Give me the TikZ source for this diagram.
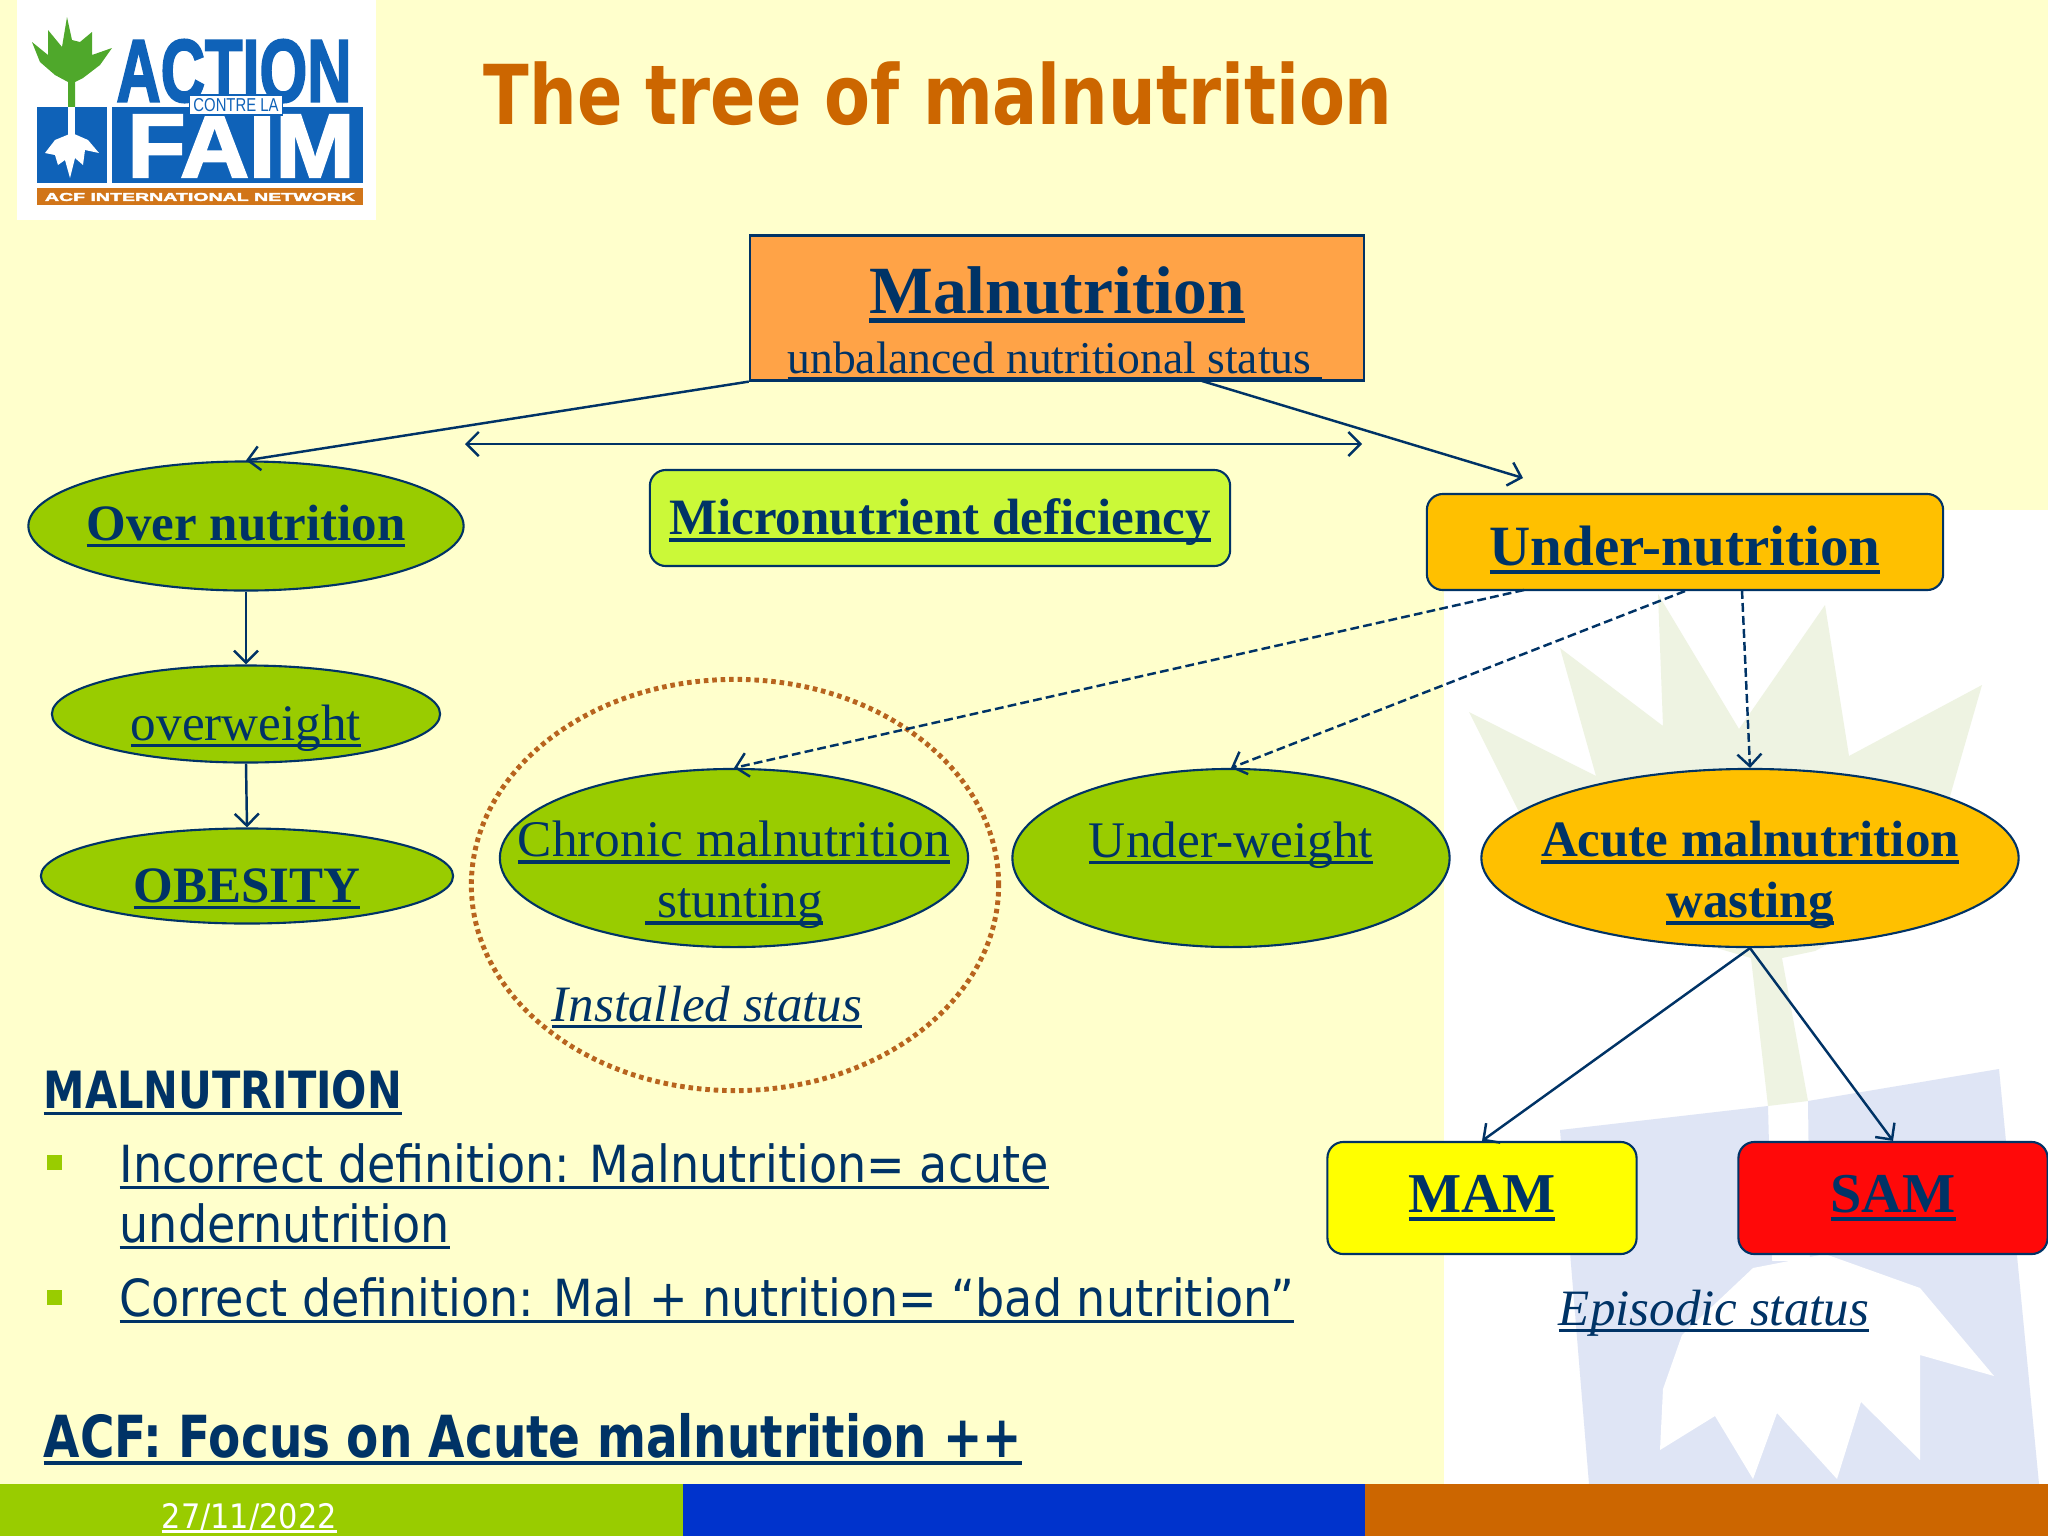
\documentclass[tikz,border=0pt]{standalone}
\usepackage{xcolor}
\usepackage{fontspec}
\setmainfont{Liberation Serif}
\newfontfamily\slidefont[BoldFeatures={FakeStretch=0.9}]{DejaVu Sans Condensed}
\newfontfamily\logofont[BoldFeatures={FakeBold=2.5}]{Liberation Sans}
\usetikzlibrary{shapes.geometric, arrows.meta}
\definecolor{custom_navy}{HTML}{003366}
\definecolor{custom_yellow}{HTML}{FFFFCC}
\definecolor{custom_green}{HTML}{99CC00}
\definecolor{custom_amber}{HTML}{FFC000}
\definecolor{custom_peach}{HTML}{FFA347}
\definecolor{custom_lime}{HTML}{CBF938}
\definecolor{custom_rust}{HTML}{CC6600}
\definecolor{custom_dots}{HTML}{B8641E}
\definecolor{custom_blue}{HTML}{0033CC}
\definecolor{custom_logo}{HTML}{0F62B8}
\definecolor{custom_plant}{HTML}{4FA82B}
\definecolor{custom_leaf}{HTML}{EEF3E2}
\definecolor{custom_pale}{HTML}{DFE5F5}
\definecolor{custom_mam}{HTML}{FFFF00}
\definecolor{custom_sam}{HTML}{FF0909}
\newsavebox{\ulbox}
\newcommand{\ultext}[1]{\sbox{\ulbox}{#1}\leavevmode\rlap{\rule[-.14em]{\wd\ulbox}{.07em}}\usebox{\ulbox}}
\newcommand{\logotext}[3]{\resizebox{#1}{#2}{\logofont\bfseries #3}}

\begin{document}
\begin{tikzpicture}[x=0.01cm, y=-0.01cm, >={Straight Barb[length=1.2mm,width=2.4mm]},
    every node/.style={text=custom_navy, inner sep=0pt},
    link/.style={->, custom_navy, line width=0.7pt},
    dashlink/.style={link, dash pattern=on 2.5pt off 1.2pt},
    box/.style={draw=custom_navy, line width=0.6pt, rounded corners=0.16cm},
    oval/.style={ellipse, draw=custom_navy, line width=0.6pt},
    tail/.style={font=\fontsize{14.5}{17}\selectfont\itshape},
    line/.style={font=\slidefont\fontsize{14.55}{17}\selectfont, anchor=base west},
    strong/.style={font=\slidefont\fontsize{#1}{17}\selectfont\bfseries, anchor=base west}]

  \useasboundingbox (0,0) rectangle (2048,1536);

  \fill[custom_yellow] (0,0) rectangle (2048,1536);
  \fill[white] (1444,510) rectangle (2048,1484);

  \fill[custom_leaf] (1469,712) -- (1596,776) -- (1560,648) -- (1663,726) -- (1658,594) -- (1739,729)
    -- (1825,605) -- (1849,756) -- (1982,685) -- (1944,817) -- (1892,911) -- (1815,951) -- (1782,958)
    -- (1808,1101) -- (1768,1106) -- (1751,958) -- (1634,924) -- (1548,870) -- cycle;
  \fill[custom_pale] (1560,1130) -- (1768,1106) -- (1772,1261) -- (1810,1261) -- (1808,1101) -- (1999,1069)
    -- (2039,1484) -- (1589,1484) -- cycle;
  \fill[white] (1660,1450) -- (1663,1389) -- (1682,1335) -- (1753,1268) -- (1825,1254) -- (1920,1288)
    -- (1994,1376) -- (1920,1355) -- (1920,1460) -- (1861,1402) -- (1837,1479) -- (1777,1413)
    -- (1753,1479) -- (1715,1416) -- cycle;

  \fill[white] (17,0) rectangle (376,220);
  \fill[custom_plant] (32,42) -- (48,55) -- (48,30) -- (62,47) -- (67,17) -- (72,40) -- (80,42) -- (92,32)
    -- (92,55) -- (112,48) -- (100,65) -- (83,78) -- (75,82) -- (75,107) -- (68,107) -- (68,82)
    -- (55,75) -- (40,62) -- cycle;
  \fill[custom_logo] (37,107) rectangle (107,183);
  \fill[custom_logo] (112,107) rectangle (363,183);
  \fill[white] (68,107) rectangle (75,135);
  \fill[white] (45,153) -- (55,140) -- (72,133) -- (88,140) -- (99,153) -- (85,150) -- (83,165) -- (75,158)
    -- (70,178) -- (65,160) -- (58,165) -- (55,155) -- cycle;
  \fill[custom_rust!90] (37,188) rectangle (363,205);

  \node[text=custom_logo] (action) at (234,71) {\logotext{2.35cm}{0.62cm}{ACTION}};
  \node[text=white] (faim) at (241,146) {\logotext{2.27cm}{0.62cm}{FAIM}};
  \node[draw=custom_logo, fill=white, minimum width=0.93cm, minimum height=0.2cm, text=custom_logo] (contre) at (236,105)
    {\resizebox{0.85cm}{0.13cm}{\logofont CONTRE LA}};
  \node[text=white] (network) at (200,197) {\logotext{3.1cm}{0.08cm}{ACF INTERNATIONAL NETWORK}};

  \node[text=custom_rust, anchor=base west, font=\slidefont\fontsize{23.5}{28}\selectfont\bfseries] (title) at (483,124)
    {The tree of malnutrition};

  \node[box, rounded corners=0pt, fill=custom_peach, minimum width=6.14cm, minimum height=1.45cm] (mal) at (1057,308) {};
  \node[font=\fontsize{19.2}{23}\selectfont\bfseries] (malhead) at (1057,295) {\ultext{Malnutrition}};
  \node[font=\fontsize{12.95}{15}\selectfont] (malsub) at (1055,361) {\ultext{unbalanced nutritional status\ }};

  \node[oval, fill=custom_green, minimum width=4.35cm, minimum height=1.29cm,
    label={[name=overtext, font=\fontsize{14.5}{17}\selectfont\bfseries]center:\ultext{Over nutrition}}] (over) at (246,526) {};
  \node[box, fill=custom_lime, minimum width=5.8cm, minimum height=0.96cm,
    label={[name=microtext, yshift=-0.04cm, font=\fontsize{14.5}{17}\selectfont\bfseries]center:\ultext{Micronutrient deficiency}}] (micro) at (940,518) {};
  \node[box, fill=custom_amber, minimum width=5.16cm, minimum height=0.96cm,
    label={[name=undertext, yshift=-0.08cm, font=\fontsize{16.2}{19}\selectfont\bfseries]center:\ultext{Under-nutrition}}] (under) at (1685,542) {};

  \node[oval, fill=custom_green, minimum width=3.88cm, minimum height=0.97cm,
    label={[name=overweighttext, yshift=-0.14cm, font=\fontsize{14.55}{17}\selectfont]center:\ultext{overweight}}] (overweight) at (246,714) {};
  \node[oval, fill=custom_green, minimum width=4.12cm, minimum height=0.95cm,
    label={[name=obesitytext, yshift=-0.13cm, font=\fontsize{14.5}{17}\selectfont\bfseries]center:\ultext{OBESITY}}] (obesity) at (247,876) {};

  \node[ellipse, draw=custom_dots, line width=1.4pt, dash pattern=on 1.3pt off 1.1pt, minimum width=5.27cm, minimum height=4.11cm] (ring) at (735,885) {};
  \node[oval, fill=custom_green, minimum width=4.68cm, minimum height=1.78cm] (chronic) at (734,858) {};
  \node[font=\fontsize{14.6}{17.4}\selectfont, align=center] (chronictext) at (734,875)
    {\ultext{Chronic malnutrition}\\ \ultext{\ stunting}};
  \node[oval, fill=custom_green, minimum width=4.37cm, minimum height=1.78cm,
    label={[name=underweighttext, yshift=0.13cm, font=\fontsize{14.6}{17}\selectfont]center:\ultext{Under-weight}}] (underweight) at (1231,858) {};
  \node[oval, fill=custom_amber, minimum width=5.37cm, minimum height=1.78cm] (acute) at (1750,858) {};
  \node[font=\fontsize{14.5}{17.4}\selectfont\bfseries, align=center] (acutetext) at (1750,875)
    {\ultext{Acute malnutrition}\\ \ultext{wasting}};

  \node[box, fill=custom_mam, minimum width=3.09cm, minimum height=1.12cm, font=\fontsize{16}{19}\selectfont\bfseries] (mam) at (1482,1198)
    {\ultext{MAM}};
  \node[box, fill=custom_sam, minimum width=3.09cm, minimum height=1.12cm, font=\fontsize{16}{19}\selectfont\bfseries] (sam) at (1893,1198)
    {\ultext{SAM}};

  \node[tail] (installed) at (707,1007) {\ultext{Installed status}};
  \node[tail] (episodic) at (1714,1313) {\ultext{Episodic status}};

  \coordinate (malout) at (1202,381);
  \coordinate (underin) at (1523,478);
  \coordinate (spanleft) at (465,444);
  \coordinate (spanright) at (1362,444);
  \coordinate (underleft) at (1524,590);
  \coordinate (underright) at (1742,590);

  \draw[link] (mal.south west) -- (over.north);
  \draw[link] (malout) -- (underin);
  \draw[link, <->] (spanleft) -- (spanright);
  \draw[link] (over.south) -- (overweight.north);
  \draw[link] (overweight.south) -- (obesity.north);
  \draw[dashlink] (underleft) -- (chronic.north);
  \draw[dashlink] (under.south) -- (underweight.north);
  \draw[dashlink] (underright) -- (acute.north);
  \draw[link] (acute.south) -- (mam.north);
  \draw[link] (acute.south) -- (sam.north);

  \node[strong=14.6] (malword) at (43,1108) {\ultext{MALNUTRITION}};
  \fill[custom_green] (47,1155) rectangle (62,1170);
  \node[line] (wrong) at (119,1182) {\ultext{Incorrect definition: Malnutrition= acute}};
  \node[line] (wrongrest) at (119,1242) {\ultext{undernutrition}};
  \fill[custom_green] (47,1290) rectangle (62,1305);
  \node[line] (right) at (119,1316) {\ultext{Correct definition: Mal + nutrition= “bad nutrition”}};
  \node[strong=16.5] (focus) at (43,1457) {\ultext{ACF: Focus on Acute malnutrition ++}};

  \fill[custom_green] (0,1484) rectangle (683,1536);
  \fill[custom_blue] (683,1484) rectangle (1365,1536);
  \fill[custom_rust] (1365,1484) rectangle (2048,1536);
  \node[line, text=white, font=\slidefont\fontsize{9.6}{12}\selectfont] (date) at (161,1528) {\ultext{27/11/2022}};

\end{tikzpicture}
\end{document}
